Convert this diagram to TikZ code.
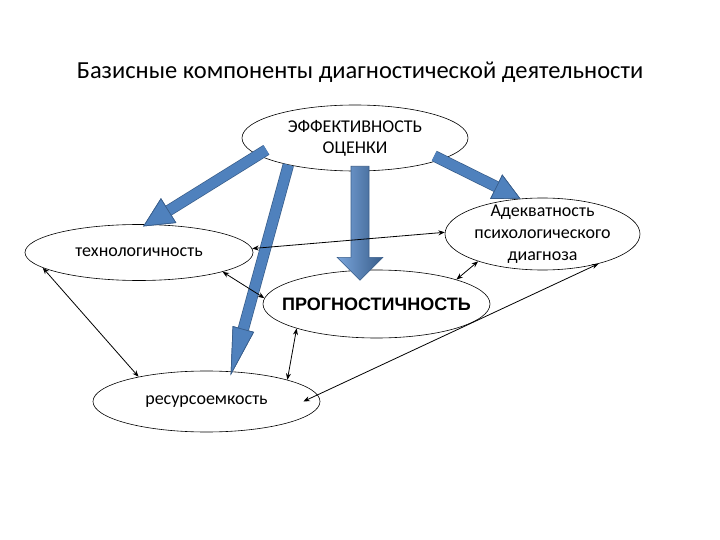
\documentclass[tikz,border=0pt]{standalone}
\usepackage{fontspec}
\setmainfont{Carlito}
\newfontfamily\arialfont{Liberation Sans}
\usetikzlibrary{shapes.geometric,arrows.meta,calc}

\definecolor{arrowblue}{HTML}{4F81BD}
\definecolor{arrowedge}{HTML}{385D8A}
\definecolor{arrowlight}{HTML}{7AA5DB}

\begin{document}
\begin{tikzpicture}[
    x=1pt, y=-1pt,
    oval/.style 2 args={
        ellipse,
        draw=black,
        line width=0.6pt,
        fill=white,
        inner sep=0pt,
        minimum width=#1,
        minimum height=#2,
        align=center,
        font=\fontsize{18}{21}\selectfont
    },
    blockarrow/.style 2 args={
        line width=10pt,
        draw=arrowblue,
        -{Triangle[width=#1 0 0,length=#2 0 0,color=arrowedge,fill=arrowblue,line width=0.7pt 0]},
        preaction={draw=arrowedge, line width=11.4pt,
            -{Triangle[width=#1 0 0,length=#2 0 0,color=arrowedge,fill=arrowblue,line width=0.7pt 0]}}
    },
    link/.style={<->, >={Stealth[length=6.5pt,width=5pt]}, line width=0.8pt}
]
\useasboundingbox (0,0) rectangle (720,540);

% Title
\node[font=\fontsize{24.5}{28}\selectfont] (title) at (360,72) {Базисные компоненты диагностической деятельности};

% Components
\node[oval={226}{66}] (eff) at (355,138) {ЭФФЕКТИВНОСТЬ\\ОЦЕНКИ};
\node[oval={228}{56}] (tech) at (139,252.5) {технологичность};
\node[oval={195}{72}, inner ysep=-9pt, inner xsep=-4pt, font=\fontsize{18}{22}\selectfont] (adeq) at (542.5,234) {Адекватность\\психологического\\диагноза};
\node[oval={227}{68}, inner xsep=-18pt, font=\arialfont\bfseries\fontsize{18}{20}\selectfont] (prog) at (376.5,304) {ПРОГНОСТИЧНОСТЬ};
\node[oval={227}{61}] (res) at (206.5,401.5) {ресурсоемкость};

% Block arrows from the top
\draw[blockarrow={29pt}{30pt}, shorten <=-10pt, shorten >=-4pt] (eff.190) -- (tech.75);
\draw[blockarrow={22pt}{48pt}, shorten >=-4pt] (eff.202) -- (res.50);
\draw[blockarrow={27pt}{27pt}, shorten <=-8pt] (eff.-14) -- (adeq.122);
\coordinate (vtop) at ($(eff.south)+(5,-5)$);
\shadedraw[left color=arrowlight, right color=arrowedge, draw=arrowedge, line width=0.6pt]
    (vtop) ++(-9,0) -- ++(18,0) -- ++(0,91) -- ++(14,0) -- ++(-23,23) -- ++(-23,-23) -- ++(14,0) -- cycle;

% Links between components
\draw[link] (tech.2) -- (adeq.179);
\draw[link] (tech.-13) -- (prog.177);
\draw[link] (tech.-171) -- (res.160);
\draw[link] (prog.197) -- (res.15);
\draw[link] (prog.17) -- (adeq.-157);
\draw[link] (adeq.-28) -- ($(res.east)+(-17,0)$);

\end{tikzpicture}
\end{document}
